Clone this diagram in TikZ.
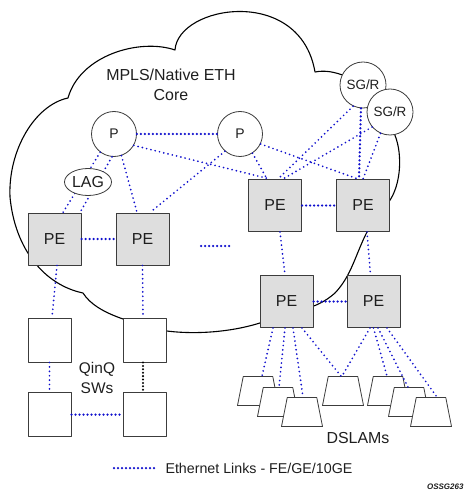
\documentclass[tikz,border=0pt]{standalone}
\usepackage{fontspec}
\setmainfont{Liberation Sans}
\usetikzlibrary{shapes.geometric}
\definecolor{linkblue}{RGB}{15,15,205}
\definecolor{boxgray}{RGB}{222,222,222}
\definecolor{edgegray}{RGB}{60,60,60}
\definecolor{txt}{RGB}{30,30,30}
\begin{document}
\begin{tikzpicture}[x=1bp,y=-1bp,line join=round,text=txt,font=\fontsize{16}{20}\selectfont]
	\tikzset{
		link/.style={linkblue,line width=1.9bp,dash pattern=on 0pt off 4.4bp,line cap=round},
		trunk/.style={link,line width=2.5bp,dash pattern=on 0pt off 4bp},
		blk/.style={link,black,line width=2.3bp,dash pattern=on 0pt off 3.4bp},
		pe/.style={draw=edgegray,line width=1bp,fill=boxgray,minimum width=53bp,minimum height=52bp,inner sep=0pt},
		sw/.style={draw=edgegray,line width=1bp,fill=white,minimum width=43bp,minimum height=44bp,inner sep=0pt},
		router/.style={circle,draw=edgegray,line width=0.8bp,fill=white,minimum size=45bp,inner sep=0pt},
		dslam/.style={trapezium,trapezium left angle=79,trapezium right angle=79,trapezium stretches=true,
			draw=edgegray,line width=0.8bp,fill=white,minimum width=41bp,minimum height=29bp,inner sep=2bp},
	}
	\useasboundingbox (0,0) rectangle (474,499);
	\draw[line width=1.1bp] (145,326) -- (123,319) .. controls (103,312) and (90,304) .. (83,293)
		.. controls (45,285) and (15,250) .. (10,197) .. controls (8,150) and (35,105) .. (68,98)
		.. controls (80,55) and (140,38) .. (175,50) .. controls (178,5) and (300,-15) .. (315,72)
		.. controls (325,70) and (335,72) .. (345,76) -- (372,100) -- (393,131)
		.. controls (403,150) and (402,185) .. (388,203) -- (368,230)
		.. controls (355,255) and (352,275) .. (335,293) .. controls (325,302) and (315,306) .. (305,309)
		-- (263,322) .. controls (230,333) and (190,335) .. (160,330) -- cycle;
	\node (coreLabel) at (171,85) [align=center,font=\fontsize{16}{20}\selectfont] {MPLS/Native ETH\\Core};
	\node[router,font=\fontsize{14}{16}\selectfont] (P1) at (114,134) {P};
	\node[router,font=\fontsize{14}{16}\selectfont] (P2) at (240,134) {P};
	\node[router,minimum size=46bp,font=\fontsize{13.5}{16}\selectfont] (SG1) at (363,85) {SG/R};
	\node[router,minimum size=46bp,font=\fontsize{13.5}{16}\selectfont] (SG2) at (390,112) {SG/R};
	\node[pe] (PE1) at (54.5,239) {PE};
	\node[pe] (PE2) at (142.5,239) {PE};
	\node[pe] (PE3) at (275,205.5) {PE};
	\node[pe] (PE4) at (363,205.5) {PE};
	\node[pe] (PE5) at (286.5,301.5) {PE};
	\node[pe] (PE6) at (373.5,301.5) {PE};
	\node[sw] (QA) at (49.5,340) {};
	\node[sw] (QB) at (145,340) {};
	\node[sw] (QC) at (49.5,414.5) {};
	\node[sw] (QD) at (145,414.5) {};
	\node (qinqLabel) at (97,378) [align=center,font=\fontsize{15.5}{19.5}\selectfont] {QinQ\\SWs};
	\foreach \n/\x/\y in {D1/258/391,D2/278/402,D3/302/412,D4/343/391,D5/388/391,D6/409/402,D7/431/412}{
		\node[dslam] (\n) at (\x,\y) {};
	}
	\node (dslamLabel) at (358,438) {DSLAMs};
	\draw[trunk] (P1) -- (P2);
	\draw[link] (P1.233) -- ([xshift=8.5bp]PE1.north);
	\draw[link] (P1.265) -- ([xshift=25.5bp]PE1.north);
	\draw[link] (P1.289) -- ([xshift=-5.5bp]PE2.north);
	\draw[link] (P2.229) -- ([xshift=7.5bp]PE2.north);
	\draw[link] (P1.330) -- ([xshift=-5bp]PE3.north);
	\draw[link] (P2.303) -- ([xshift=-8bp]PE3.north);
	\draw[link] (P2.334) -- ([xshift=-5bp]PE4.north);
	\draw[link] (SG1.245) -- ([xshift=3bp]PE3.north);
	\draw[trunk] (SG1.265) -- ([xshift=-4bp]PE4.north);
	\draw[link] (SG2.220) -- ([xshift=8bp]PE3.north);
	\draw[link] (SG2.246) -- (PE4.north);
	\draw[trunk] (PE1) -- (PE2);
	\draw[trunk] (PE3) -- (PE4);
	\draw[trunk] (PE5) -- (PE6);
	\draw[link] ([xshift=5bp]PE3.south) -- ([xshift=-1.5bp]PE5.north);
	\draw[link] ([xshift=4bp]PE4.south) -- ([xshift=-3bp]PE6.north);
	\draw[link] ([xshift=2.5bp]PE1.south) -- ([xshift=2.5bp]QA.north);
	\draw[link] (PE2.south) -- ([xshift=-2bp]QB.north);
	\draw[link] (QA) -- (QC);
	\draw[blk] ([xshift=-2bp]QB.south) -- ([xshift=-2bp]QD.north);
	\draw[trunk] (QC) -- (QD);
	\foreach \s/\d/\e in {-13.5/D1/4,-1.5/D2/1,6.5/D3/1,15.5/D4/-2}{
		\draw[link] ([xshift=\s bp]PE5.south) -- ([xshift=\e bp]\d.north);
	}
	\foreach \s/\d/\e in {-3.5/D4/-1,0/D5/-1,4.5/D6/-1,13.5/D7/6}{
		\draw[link] ([xshift=\s bp]PE6.south) -- ([xshift=\e bp]\d.north);
	}
	\coordinate (moreA) at (201,246);
	\coordinate (moreB) at (233,246);
	\draw[trunk] (moreA) -- (moreB);
	\node[ellipse,draw=edgegray,line width=0.8bp,fill=white,minimum width=47bp,minimum height=27bp,inner sep=0pt] (LAG) at (88,182) {LAG};
	\coordinate (legA) at (114,468);
	\coordinate (legB) at (157,468);
	\draw[trunk] (legA) -- (legB);
	\node[anchor=west,font=\fontsize{14.3}{17}\selectfont] (legendText) at (162,468) {Ethernet Links - FE/GE/10GE};
	\node[anchor=east,font=\fontsize{8}{10}\selectfont\bfseries\itshape] (figId) at (467,487) {OSSG263};
\end{tikzpicture}
\end{document}
